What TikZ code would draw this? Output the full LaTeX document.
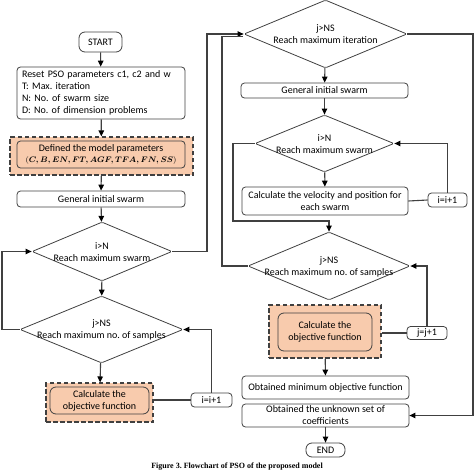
\documentclass[tikz,border=0pt]{standalone}
\usepackage{amsmath}
\usepackage{fontspec}
\setmainfont{Carlito}
\newfontfamily\capfont{Liberation Serif}
\usetikzlibrary{shapes.geometric,arrows.meta}
\definecolor{orfill}{HTML}{F8CBAD}
\definecolor{lncol}{HTML}{404040}
\frenchspacing
\begin{document}
\begin{tikzpicture}[x=1pt,y=-1pt,
  every node/.style={font=\fontsize{10}{12}\selectfont},
  sz/.style 2 args={minimum width=#1pt, minimum height=#2pt},
  box/.style={draw=lncol, line width=0.8pt, rounded corners=3.5pt, align=center, inner sep=0pt},
  pill/.style={box, rounded corners=6pt},
  orbox/.style={box, fill=orfill},
  dashbox/.style={draw=lncol, line width=1.1pt, dash pattern=on 4.5pt off 2.5pt, fill=orfill, inner sep=0pt},
  dia/.style={draw=lncol, line width=0.8pt, diamond, inner sep=0pt, rounded corners=1.5pt},
  dtext/.style={align=center, inner sep=0pt},
  conn/.style={draw=lncol, line width=1.1pt},
  arr/.style={conn, -{Triangle[length=6pt,width=5.5pt,color=black]}}
]
\useasboundingbox (0,0) rectangle (474,471);

% ---------- left column ----------
\node[pill, sz={43}{20}] (start) at (100.5,42) {START};
\node[box, sz={168}{52}, align=left, text width=158pt, inner xsep=5pt, inner ysep=2pt] (reset) at (101,93)
  {Reset PSO parameters c1, c2 and w\\T: Max. iteration\\N: No. of swarm size\\D: No. of dimension problems};
\node[dashbox, sz={183}{38}] (def) at (101.5,156) {};
\node[orbox, sz={168}{27}] (defin) at (101,154.5)
  {Defined the model parameters\\[-1pt]{\fontsize{8.3}{10}\selectfont$(\boldsymbol{C,B,EN,FT,AGF,TFA,FN,SS})$}};
\node[box, sz={168}{16}] (gis1) at (101,199) {General initial swarm};
\node[dia, sz={140}{59}] (dA) at (102,251.5) {};
\node[dtext] (dAt) at (102,252) {i>N\\Reach maximum swarm};
\node[dia, sz={163}{67}] (dB) at (101.5,329.5) {};
\node[dtext] (dBt) at (101.5,330) {j>NS\\Reach maximum no. of samples};
\node[dashbox, sz={107}{39}] (obj1) at (99.5,402.5) {};
\node[orbox, sz={99}{27}, rounded corners=6pt] (obj1in) at (99.5,400.5) {Calculate the\\objective function};
\node[box, sz={41}{14}] (inc1) at (211.5,400) {i=i+1};

% ---------- right column ----------
\node[dia, sz={163}{68}] (dC) at (325.5,34) {};
\node[dtext] (dCt) at (325.5,34) {j>NS\\Reach maximum iteration};
\node[box, sz={167}{15}] (gis2) at (324.5,90.5) {General initial swarm};
\node[dia, sz={139}{57}] (dD) at (324.5,143.5) {};
\node[dtext] (dDt) at (324.5,144) {i>N\\Reach maximum swarm};
\node[box, sz={166}{28}] (vel) at (325,201) {Calculate the velocity and position for\\each swarm};
\node[box, sz={39}{14}] (inc2) at (447.5,200) {i=i+1};
\node[dia, sz={162}{68}] (dE) at (329,266) {};
\node[dtext] (dEt) at (329,266.5) {j>NS\\Reach maximum no. of samples};
\node[dashbox, sz={112}{53}] (obj2) at (325,331.5) {};
\node[orbox, sz={94}{38}, rounded corners=6pt] (obj2in) at (325,332) {Calculate the\\objective function};
\node[box, sz={40}{13}] (inc3) at (427,333) {j=j+1};
\node[box, sz={167}{23}] (minf) at (325.5,387.5) {Obtained minimum objective function};
\node[box, sz={167}{23}] (coef) at (325.5,415.5) {Obtained the unknown set of\\coefficients};
\node[pill, sz={39}{14}] (endn) at (325.5,450) {END};

% free corner points
\coordinate (lx) at (2,0);
\coordinate (m1) at (207,0);
\coordinate (m2) at (222,0);
\coordinate (m2e) at (243,36.5);
\coordinate (m3) at (233,221);
\coordinate (rx) at (473,0);

% ---------- connectors ----------
\draw[arr] (start) -- (reset);
\draw[arr] (reset) -- (def);
\draw[arr] (def) -- (gis1);
\draw[arr] (gis1) -- (dA);
\draw[arr] (dA) -- (dB);
\draw[arr] (dB) -- (obj1);
\draw[conn] (obj1.east |- inc1.west) -- (inc1.west);
\draw[arr] (inc1.north) |- (dB.east);
\draw[arr] (dB.west) -- (lx |- dB.west) -- (lx |- dA.west) -- (dA.west);
\draw[arr] (dA.east) -- (m1 |- dA.east) -- (m1 |- dC.west) -- (dC.west);
\draw[conn] (dE.west) -- (m2 |- dE.west) -- (m2 |- m2e) -- (m2e);
\draw[arr] (dC.east) -- (rx |- dC.east) -- (rx |- coef.east) -- (coef.east);
\draw[arr] (dC) -- (gis2);
\draw[arr] (gis2) -- (dD);
\draw[arr] (dD) -- (vel);
\draw[conn] (vel.east) -- (inc2.west);
\draw[arr] (inc2.north) |- (dD.east);
\draw[arr] (dD.west) -| (m3) -| (dE.north);
\draw[conn] (obj2.east |- inc3.west) -- (inc3.west);
\draw[arr] (inc3.north) |- (dE.east);
\draw[arr] (obj2) -- (minf);
\draw[arr] (coef) -- (endn);

% caption
\node[anchor=base, font=\capfont\bfseries\fontsize{8}{9}\selectfont, inner sep=0pt] (cap) at (237,468)
  {Figure 3. Flowchart of PSO of the proposed model};
\end{tikzpicture}
\end{document}
